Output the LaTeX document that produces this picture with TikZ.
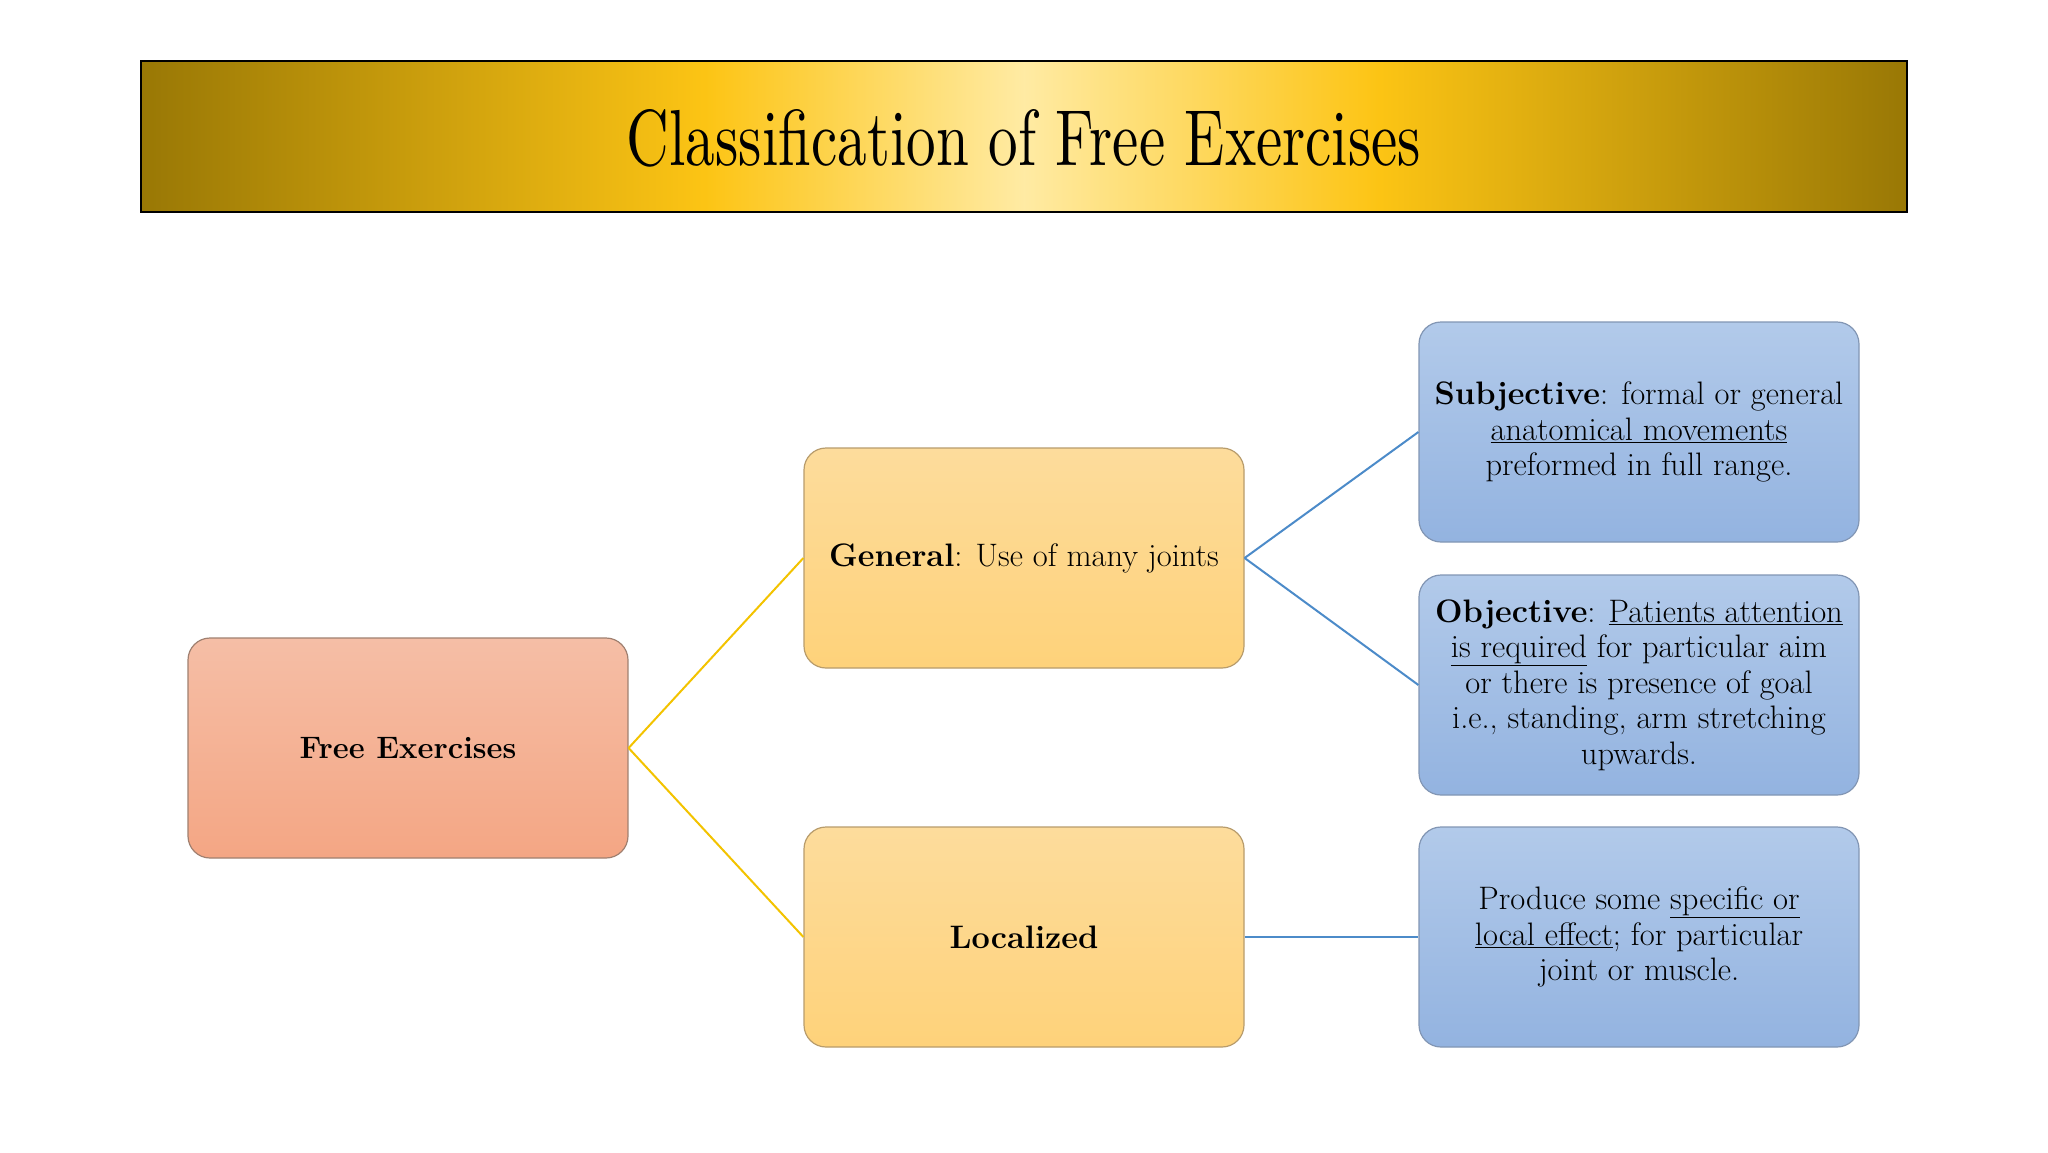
\documentclass[tikz,border=0pt]{standalone}
\usepackage{graphicx}
\pgfdeclarehorizontalshading{bannershade}{100bp}{rgb(0bp)=(0.60,0.47,0.02); rgb(25bp)=(0.60,0.47,0.02); rgb(41bp)=(0.99,0.77,0.08); rgb(50bp)=(1.0,0.92,0.64); rgb(60bp)=(0.99,0.77,0.08); rgb(75bp)=(0.60,0.47,0.02); rgb(100bp)=(0.60,0.47,0.02)}
\definecolor{salmonT}{HTML}{F5BEA6}
\definecolor{salmonB}{HTML}{F4A684}
\definecolor{salmonD}{HTML}{A08070}
\definecolor{goldT}{HTML}{FDDC9C}
\definecolor{goldB}{HTML}{FED27A}
\definecolor{goldD}{HTML}{B89C6C}
\definecolor{blueT}{HTML}{B2CAEA}
\definecolor{blueB}{HTML}{93B3E0}
\definecolor{blueD}{HTML}{8296B4}
\definecolor{lineY}{HTML}{F3C300}
\definecolor{lineB}{HTML}{4C8BC9}
\tikzset{
  boxbase/.style={rounded corners=22pt, minimum width=440pt, minimum height=220pt, line width=1.2pt, align=center, inner sep=4pt, font=\fontsize{32.5}{35.5}\selectfont},
  salmonbox/.style={boxbase, draw=salmonD, top color=salmonT, bottom color=salmonB},
  goldbox/.style={boxbase, draw=goldD, top color=goldT, bottom color=goldB},
  bluebox/.style={boxbase, draw=blueD, top color=blueT, bottom color=blueB},
  yline/.style={draw=lineY, line width=2pt},
  bline/.style={draw=lineB, line width=2pt}
}
\begin{document}
\begin{tikzpicture}[x=1pt,y=-1pt]
\path[use as bounding box, fill=white] (0,0) rectangle (2048,1152);
\path[shading=bannershade, draw=black, line width=1.8pt] (141,61) rectangle (1907,212);
\node[anchor=base, inner sep=0pt] (title) at (1024,165) {\resizebox{794pt}{56pt}{Classification of Free Exercises}};

\node[salmonbox] (free) at (408,748) {\fontsize{31}{35.5}\selectfont\textbf{Free Exercises}};
\node[goldbox] (gen) at (1024,558) {\textbf{General}: Use of many joints};
\node[goldbox] (loc) at (1024,937) {\textbf{Localized}};
\node[bluebox] (subj) at (1639,432) {\textbf{Subjective}: formal or general\\\underline{anatomical movements}\\preformed in full range.};
\node[bluebox] (obj) at (1639,685) {\textbf{Objective}: \underline{Patients attention}\\\underline{is required} for particular aim\\or there is presence of goal\\i.e., standing, arm stretching\\upwards.};
\node[bluebox] (spec) at (1639,937) {Produce some \underline{specific or}\\\underline{local effect}; for particular\\joint or muscle.};

\draw[yline] (free.east) -- (gen.west);
\draw[yline] (free.east) -- (loc.west);
\draw[bline] (gen.east) -- (subj.west);
\draw[bline] (gen.east) -- (obj.west);
\draw[bline] (loc.east) -- (spec.west);
\end{tikzpicture}
\end{document}
